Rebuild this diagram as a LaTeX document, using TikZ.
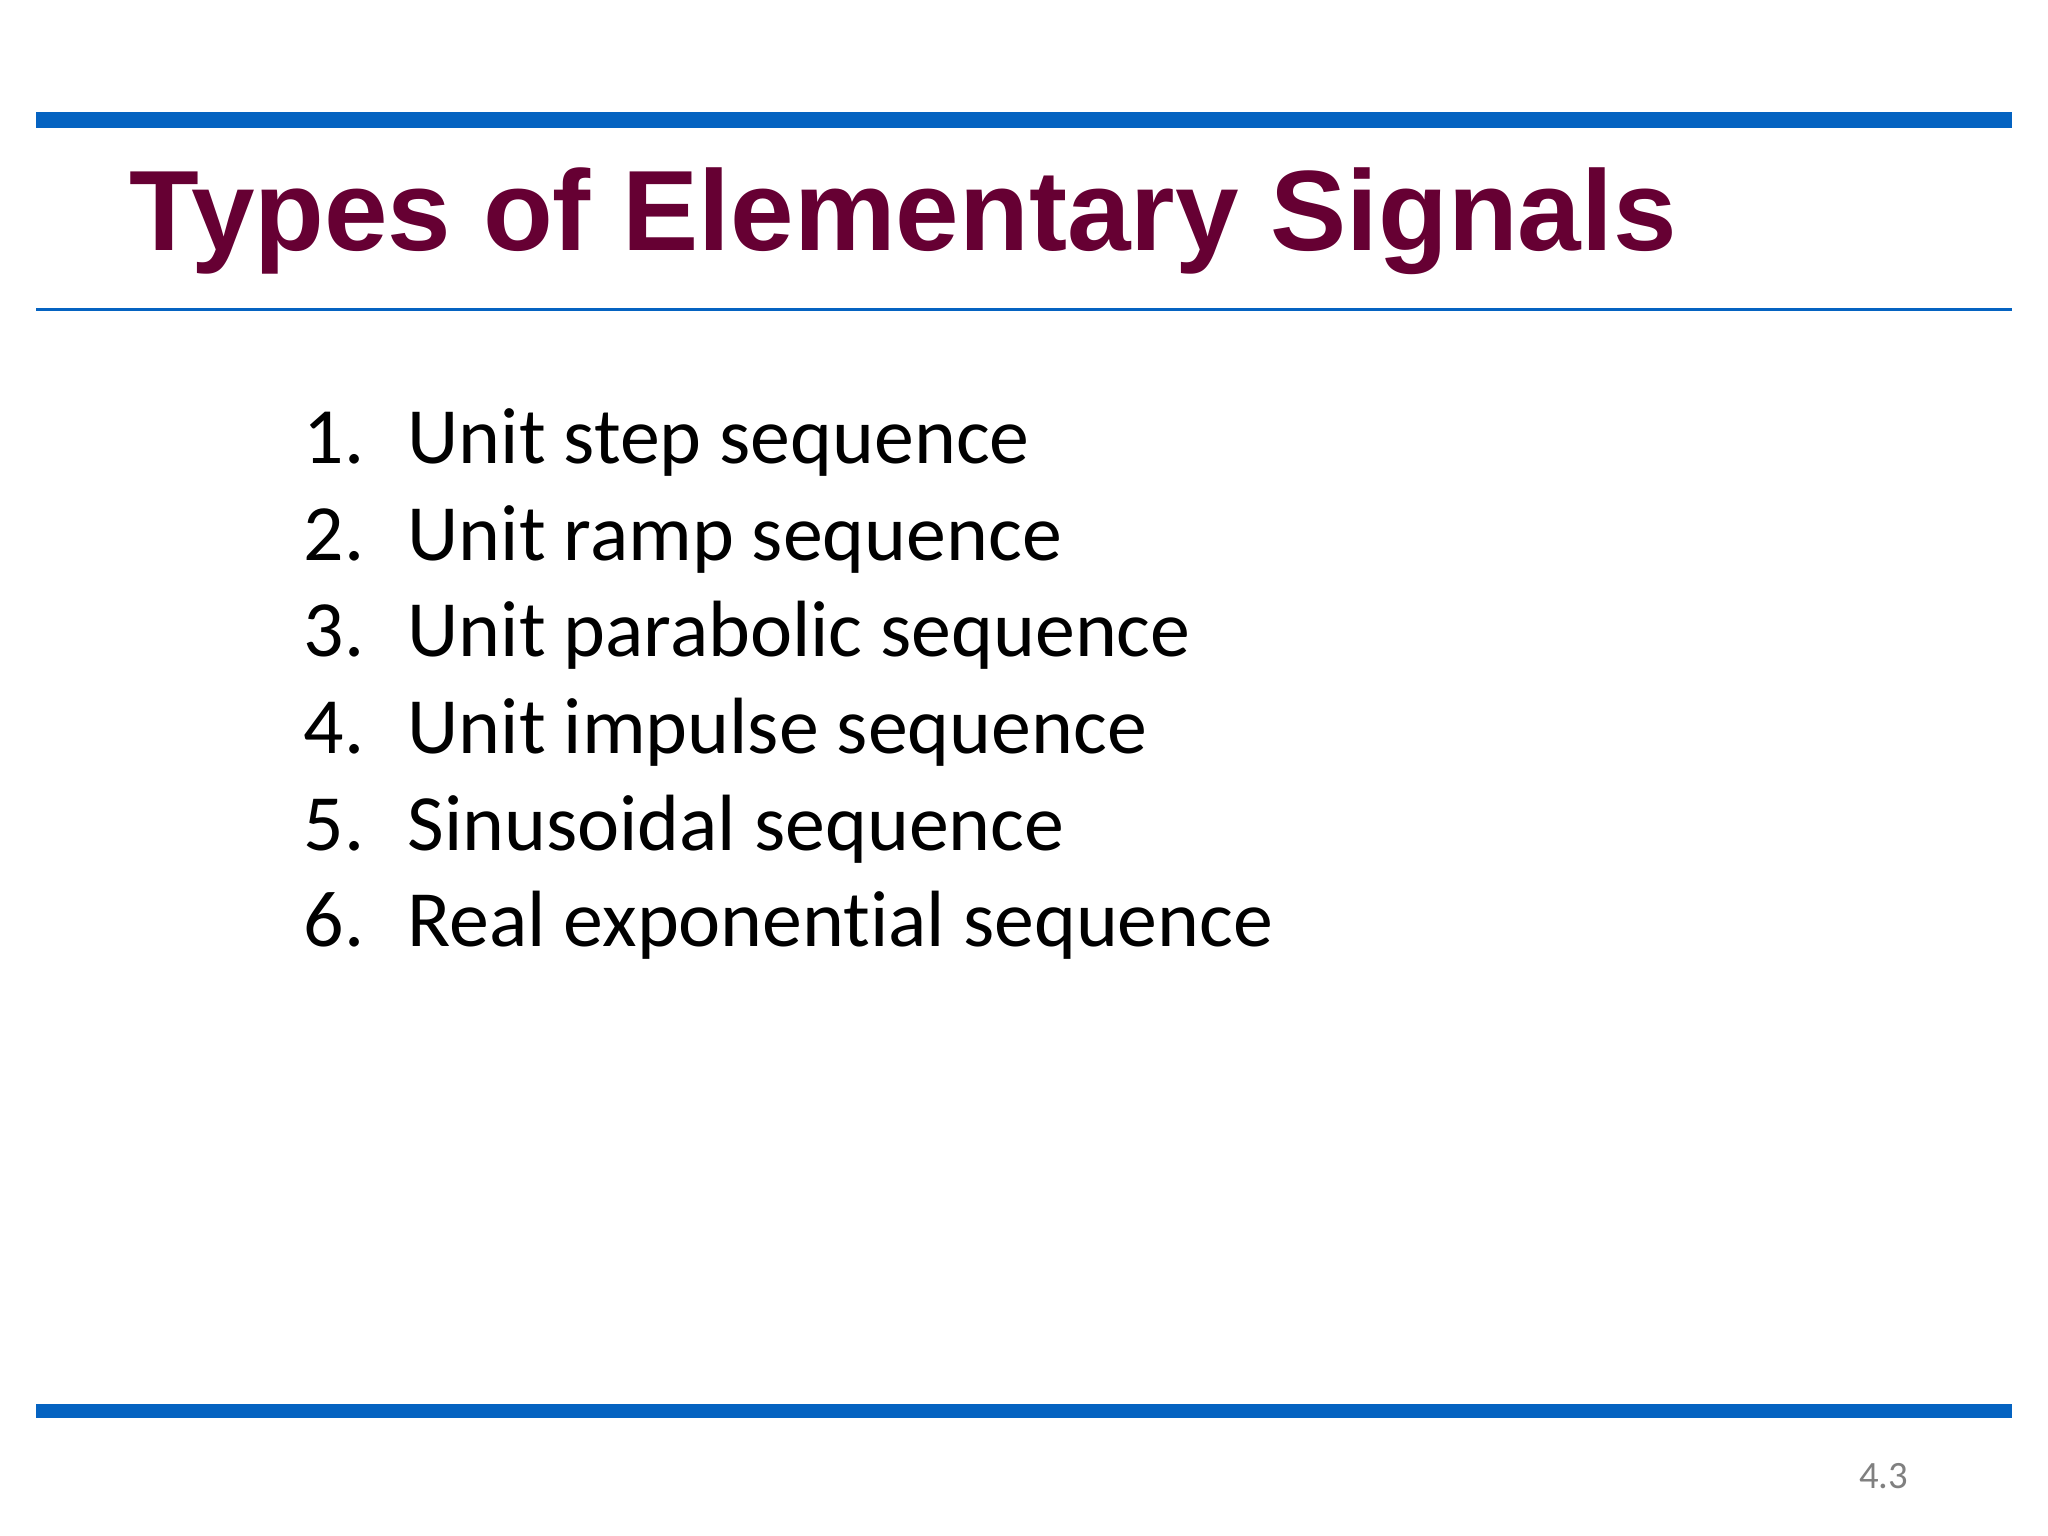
\documentclass[tikz,border=0pt]{standalone}
\usepackage{fontspec}
\setmainfont{Carlito}[Ligatures={NoCommon,NoRare,NoDiscretionary}]
\newfontfamily\titlefont{Liberation Sans}
\definecolor{barblue}{RGB}{5,99,193}
\definecolor{maroon}{RGB}{102,0,51}
\begin{document}
\begin{tikzpicture}[x=0.01317cm,y=-0.01317cm,
  item/.style={anchor=base west,font=\fontsize{22.7pt}{28pt}\selectfont,inner sep=0}]
\useasboundingbox (0,0) rectangle (1555,1166);
\fill[barblue] (27,85) rectangle (1528,97);
\fill[barblue] (27,233.5) rectangle (1528,236.5);
\fill[barblue] (27,1066) rectangle (1528,1077);
\node[anchor=base west,inner sep=0,text=maroon,font=\titlefont\bfseries\fontsize{32.5pt}{36pt}\selectfont] (title) at (98,190) {Types of Elementary Signals};
\foreach \n/\t [count=\i from 0] in {1/Unit step sequence,2/Unit ramp sequence,3/Unit parabolic sequence,4/Unit impulse sequence,5/Sinusoidal sequence,6/Real exponential sequence}{
  \node[item] (n\n) at (230,352+73.4*\i) {\n.};
  \node[item] (t\n) at (309,352+73.4*\i) {\t};
}
\node[anchor=base west,inner sep=0,text=gray,font=\fontsize{11pt}{13pt}\selectfont] (pg) at (1411,1130) {4.3};
\end{tikzpicture}
\end{document}
